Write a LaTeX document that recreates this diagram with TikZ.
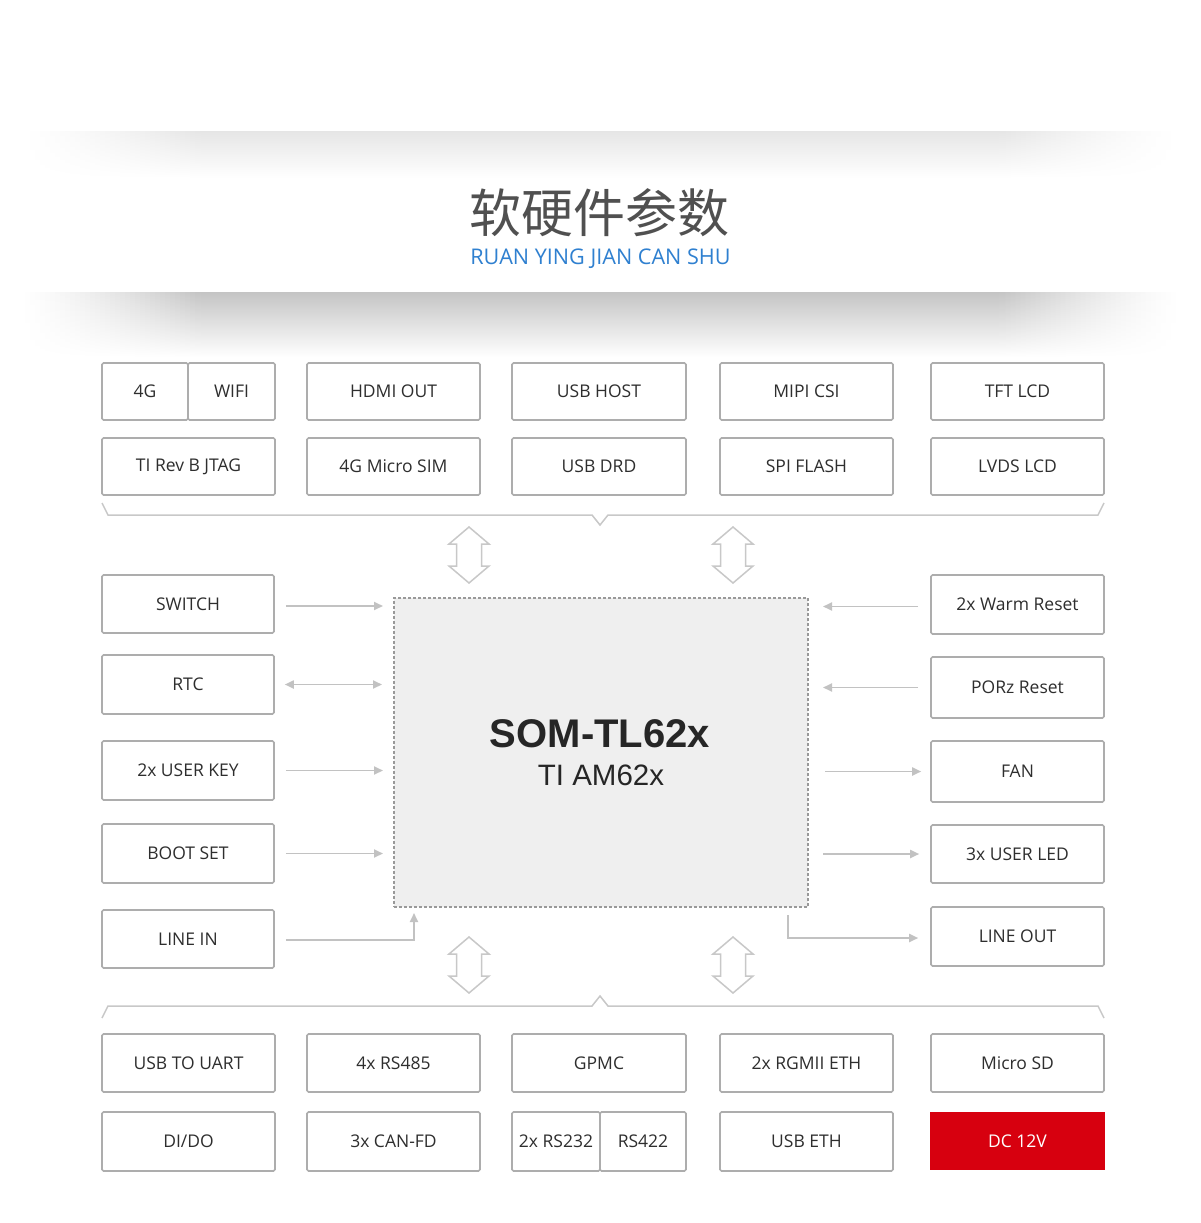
\documentclass[tikz,border=0pt]{standalone}
\usepackage{fontspec}
\setmainfont{Open Sans}
\newfontfamily\cjkfont{Noto Sans CJK SC}
\newfontfamily\arialfont{Liberation Sans}
\usetikzlibrary{arrows.meta}

\definecolor{bordergray}{HTML}{ADADAD}
\definecolor{txtgray}{HTML}{2E2E2E}
\definecolor{arrowgray}{HTML}{C2C2C2}
\definecolor{bracegray}{HTML}{C8C8C8}
\definecolor{chipgray}{HTML}{999999}
\definecolor{chipfill}{HTML}{EFEFEF}
\definecolor{dcred}{HTML}{D7000F}
\definecolor{subblue}{HTML}{2F80D0}
\definecolor{titlegray}{HTML}{505050}

\tikzset{
  boxstyle/.style={draw=bordergray, line width=1.6pt, rounded corners=1.5pt, fill=white,
    text=txtgray, font=\fontsize{17.5}{20}\selectfont, inner sep=0pt,
    minimum height=57pt, minimum width=173pt},
  halfbox/.style={boxstyle, minimum width=86.5pt},
  conn/.style={draw=arrowgray, line width=1.8pt, -{Triangle[length=9pt,width=8pt]}},
  bconn/.style={draw=arrowgray, line width=1.8pt, {Triangle[length=9pt,width=8pt]}-{Triangle[length=9pt,width=8pt]}},
  dblarrowstyle/.style={draw=bracegray, line width=1.5pt, line join=miter},
  bracestyle/.style={draw=bracegray, line width=1.5pt},
  chipstyle/.style={draw=chipgray, fill=chipfill, line width=2pt, dash pattern=on 3pt off 2pt,
    minimum width=414pt, minimum height=309pt, inner sep=0pt}
}

\newcommand\dblarrow[3]{%
  \draw[dblarrowstyle] (#1,#2) -- ++(20,17) -- ++(-7.5,0) -- (#1+12.5,#3-17) -- ++(7.5,0)
    -- (#1,#3) -- ++(-20,-17) -- ++(7.5,0) -- (#1-12.5,#2+17) -- ++(-7.5,0) -- cycle;}

\begin{document}
\begin{tikzpicture}[x=1pt,y=-1pt]
\fill[white] (0,0) rectangle (1200,1223);
\useasboundingbox (0,0) rectangle (1200,1223);

% header shadows
\shade[top color=black!10, bottom color=white] (199,131) rectangle (1001,178);
\shade[top color=black!23, bottom color=white] (199,292) rectangle (1001,357);
\foreach \i in {0,...,35}{
  \pgfmathsetmacro\ff{((\i+0.5)/36)^1.3}
  \pgfmathsetmacro\ct{10*\ff}
  \pgfmathsetmacro\cb{23*\ff}
  \shade[top color=black!\ct, bottom color=white] (20+5*\i,131) rectangle (25.6+5*\i,178);
  \shade[top color=black!\ct, bottom color=white] (1180-5*\i,131) rectangle (1174.4-5*\i,178);
  \shade[top color=black!\cb, bottom color=white] (20+5*\i,292) rectangle (25.6+5*\i,357);
  \shade[top color=black!\cb, bottom color=white] (1180-5*\i,292) rectangle (1174.4-5*\i,357);
}

\node[font=\cjkfont\fontsize{52}{52}\selectfont, text=titlegray, inner sep=0pt] (title) at (599,213) {软硬件参数};
\node[font=\fontsize{21.6}{22}\selectfont, text=subblue, inner sep=0pt] (subtitle) at (600.5,259) {RUAN YING JIAN CAN SHU};

% top boxes
\node[halfbox, minimum width=86pt] (g4) at (145,391.5) {4G};
\node[halfbox, minimum width=87pt] (wifi) at (231.5,391.5) {WIFI};
\node[boxstyle] (hdmi) at (393.5,391.5) {HDMI OUT};
\node[boxstyle, minimum width=174pt] (usbhost) at (599,391.5) {USB HOST};
\node[boxstyle] (mipi) at (806.5,391.5) {MIPI CSI};
\node[boxstyle] (tft) at (1017.5,391.5) {TFT LCD};

\node[boxstyle] (jtag) at (188.5,466.5) {TI Rev B JTAG};
\node[boxstyle] (sim) at (393.5,466.5) {4G Micro SIM};
\node[boxstyle, minimum width=174pt] (usbdrd) at (599,466.5) {USB DRD};
\node[boxstyle] (spi) at (806.5,466.5) {SPI FLASH};
\node[boxstyle] (lvds) at (1017.5,466.5) {LVDS LCD};

% top brace
\draw[bracestyle] (102,503) -- (108,515) -- (592,515) -- (600,525) -- (608,515) -- (1098,515) -- (1104,503);
\dblarrow{469}{527}{583}
\dblarrow{733}{527}{583}

% chip
\node[chipstyle] (som) at (601,752.5) {};
\node[font=\arialfont\bfseries\fontsize{40}{40}\selectfont, text=black!85, inner sep=0pt] (somname) at (600,734) {SOM-TL62x};
\node[font=\arialfont\fontsize{29.5}{30}\selectfont, text=black!85, inner sep=0pt] (socname) at (601,775) {TI AM62x};

% left boxes
\node[boxstyle, minimum width=172pt, minimum height=58pt] (sw) at (188,604) {SWITCH};
\node[boxstyle, minimum width=172pt, minimum height=59pt] (rtc) at (188,684.5) {RTC};
\node[boxstyle, minimum width=172pt, minimum height=59pt] (key) at (188,770.5) {2x USER KEY};
\node[boxstyle, minimum width=172pt, minimum height=59pt] (boot) at (188,853.5) {BOOT SET};
\node[boxstyle, minimum width=172pt, minimum height=58pt] (li) at (188,939) {LINE IN};

% right boxes
\node[boxstyle, minimum height=59pt] (wr) at (1017.5,604.5) {2x Warm Reset};
\node[boxstyle, minimum height=61pt] (por) at (1017.5,687.5) {PORz Reset};
\node[boxstyle, minimum height=61pt] (fan) at (1017.5,771.5) {FAN};
\node[boxstyle, minimum height=58pt] (led) at (1017.5,854) {3x USER LED};
\node[boxstyle, minimum height=59pt] (lo) at (1017.5,936.5) {LINE OUT};

% left connectors
\draw[conn, shorten <=11pt, shorten >=10pt] ([yshift=-2pt]sw.east) -- ([yshift=-2pt]som.west |- sw.east);
\draw[bconn, shorten <=10pt, shorten >=11pt] (rtc.east) -- (som.west |- rtc.east);
\draw[conn, shorten <=11pt, shorten >=10pt] (key.east) -- (som.west |- key.east);
\draw[conn, shorten <=11pt, shorten >=10pt] (boot.east) -- (som.west |- boot.east);
\draw[conn, shorten <=11pt, shorten >=5pt] ([yshift=-1pt]li.east) -| ([xshift=21pt]som.south west);

% right connectors
\draw[conn, shorten <=12pt, shorten >=14pt] ([yshift=-2pt]wr.west) -- ([yshift=-2pt]som.east |- wr.west);
\draw[conn, shorten <=12pt, shorten >=14pt] (por.west) -- (som.east |- por.west);
\draw[conn, shorten <=16pt, shorten >=9pt] (som.east |- fan.west) -- (fan.west);
\draw[conn, shorten <=14pt, shorten >=11pt] (som.east |- led.west) -- (led.west);
\draw[conn, shorten <=7pt, shorten >=12pt] ([xshift=-21pt]som.south east) |- ([yshift=-1.5pt]lo.west);

% bottom brace
\dblarrow{469}{937}{993}
\dblarrow{733}{937}{993}
\draw[bracestyle] (102,1018) -- (108,1006) -- (592,1006) -- (600,996) -- (608,1006) -- (1098,1006) -- (1104,1018);

% bottom boxes
\node[boxstyle, minimum height=58pt] (uart) at (188.5,1063) {USB TO UART};
\node[boxstyle, minimum height=58pt] (rs485) at (393.5,1063) {4x RS485};
\node[boxstyle, minimum width=174pt, minimum height=58pt] (gpmc) at (599,1063) {GPMC};
\node[boxstyle, minimum height=58pt] (rgmii) at (806.5,1063) {2x RGMII ETH};
\node[boxstyle, minimum height=58pt] (sd) at (1017.5,1063) {Micro SD};

\node[boxstyle, minimum height=59pt] (dido) at (188.5,1141.5) {DI/DO};
\node[boxstyle, minimum height=59pt] (can) at (393.5,1141.5) {3x CAN-FD};
\node[halfbox, minimum width=88pt, minimum height=59pt] (rs232) at (556,1141.5) {2x RS232};
\node[halfbox, minimum width=86pt, minimum height=59pt] (rs422) at (643,1141.5) {RS422};
\node[boxstyle, minimum height=59pt] (usbeth) at (806.5,1141.5) {USB ETH};
\node[boxstyle, minimum height=56pt, draw=dcred, fill=dcred, text=white, rounded corners=0pt] (dc) at (1017.5,1141) {DC 12V};
\end{tikzpicture}
\end{document}
